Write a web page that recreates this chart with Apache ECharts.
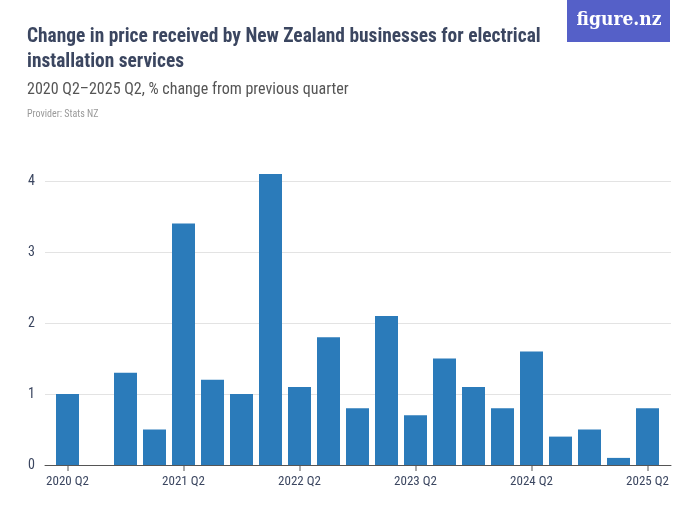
<!DOCTYPE html>
<html><head><meta charset="utf-8">
<script src="https://cdn.jsdelivr.net/npm/echarts@6/dist/echarts.min.js"></script>
<style>html,body{margin:0;padding:0;background:#fff}#c{width:700px;height:525px}</style>
</head><body><div id="c"></div>
<script>
const categories = ["2020 Q2","2020 Q3","2020 Q4","2021 Q1","2021 Q2","2021 Q3","2021 Q4","2022 Q1","2022 Q2","2022 Q3","2022 Q4","2023 Q1","2023 Q2","2023 Q3","2023 Q4","2024 Q1","2024 Q2","2024 Q3","2024 Q4","2025 Q1","2025 Q2"];
const values = [1.0,0,1.3,0.5,3.4,1.2,1.0,4.1,1.1,1.8,0.8,2.1,0.7,1.5,1.1,0.8,1.6,0.4,0.5,0.1,0.8];
const yTicks = [0,1,2,3,4];

const FONT = '"Roboto Condensed","Roboto",sans-serif';
const chart = echarts.init(document.getElementById('c'), null, {renderer:'canvas'});
chart.setOption({
  animation:false,
  backgroundColor:'#fff',
  title:[
    {text:'Change in price received by New Zealand businesses for electrical\ninstallation services', left:22, top:20,
     textStyle:{fontFamily:FONT, fontSize:19.4, fontWeight:'bold', color:'#3b4660', lineHeight:25}},
    {text:'2020 Q2–2025 Q2, % change from previous quarter', left:22, top:76,
     textStyle:{fontFamily:FONT, fontSize:16, fontWeight:'normal', color:'#555', lineHeight:18}},
    {text:'Provider: Stats NZ', left:22, top:103,
     textStyle:{fontFamily:FONT, fontSize:10, fontWeight:'normal', color:'#999', lineHeight:12}}
  ],
  graphic:[
    {type:'rect', shape:{x:567,y:0,width:103,height:42}, style:{fill:'#5560c8'}},
    {type:'text', x:619, y:20, style:{text:'figure.nz', fill:'#fff', font:'bold 19px "DejaVu Serif Condensed","Liberation Serif",serif', align:'center', verticalAlign:'middle'}}
  ],
  grid:[
    {left:45, right:29, top:181, bottom:60},
    {left:53, right:38, top:181, bottom:60}
  ],
  xAxis:[
    {type:'category', gridIndex:0, data:categories, boundaryGap:true,
     axisLine:{show:true, lineStyle:{color:'#555', width:1}}, axisTick:{show:false}, axisLabel:{show:false}, z:5},
    {type:'category', gridIndex:1, data:categories,
     axisLine:{show:false},
     axisTick:{show:true, alignWithLabel:true, interval:3, length:6, lineStyle:{color:'#aaa', width:2}},
     axisLabel:{interval:3, margin:10, fontFamily:FONT, fontSize:13, color:'#3b4660'}}
  ],
  yAxis:[
    {type:'value', gridIndex:0, min:0, max:4, interval:1,
     axisLine:{show:false}, axisTick:{show:false},
     axisLabel:{margin:10, fontFamily:FONT, fontSize:14, color:'#3b4660',
       formatter:v=>yTicks.includes(v)?String(v):''},
     splitLine:{show:true, lineStyle:{color:'#e3e3e3', width:1}}},
    {type:'value', gridIndex:1, min:0, max:4, interval:1, show:false, splitLine:{show:false}}
  ],
  series:[
    {type:'bar', xAxisIndex:1, yAxisIndex:1, data:values, barWidth:23, clip:false,
     itemStyle:{color:'#2b7bba'}}
  ]
});
</script></body></html>
